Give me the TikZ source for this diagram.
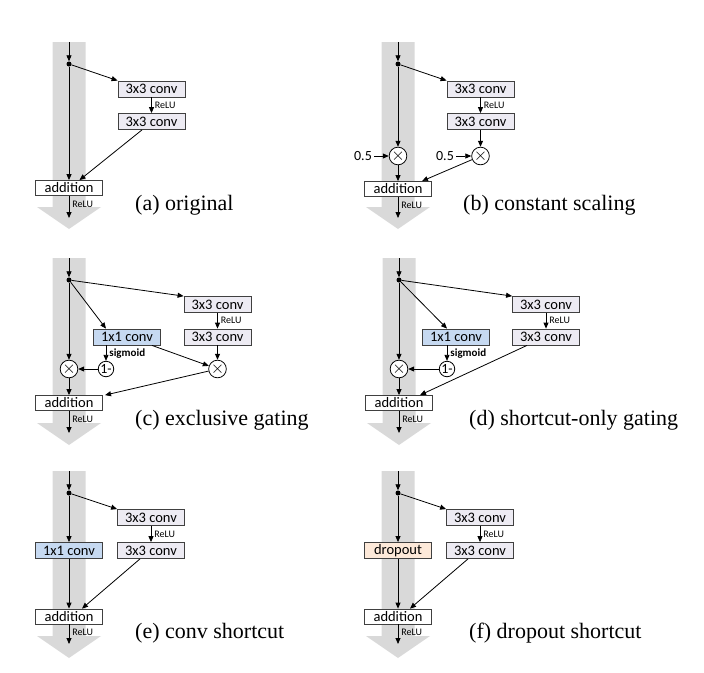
\documentclass[tikz,border=0pt]{standalone}
\usepackage{fontspec}
\setmainfont{Liberation Serif}
\newfontfamily\boxfont{Carlito}
\usetikzlibrary{arrows.meta}
\definecolor{bandgray}{HTML}{D9D9D9}
\definecolor{convfill}{HTML}{EDEBF3}
\definecolor{gatefill}{HTML}{C6D9F1}
\definecolor{dropfill}{HTML}{FDE9D9}
\definecolor{boxline}{HTML}{404040}
\tikzset{
  arr/.style={-{Triangle[length=6pt,width=5pt]},line width=0.8pt},
  layer/.style={draw=boxline,line width=0.8pt,minimum width=67pt,minimum height=16pt,inner sep=0pt,font=\boxfont\fontsize{14.5}{14.5}\selectfont},
  conv/.style={layer,fill=convfill},
  gate/.style={layer,fill=gatefill},
  drop/.style={layer,fill=dropfill},
  addbox/.style={layer,fill=white,minimum height=15pt},
  mult/.style={circle,draw,line width=0.8pt,fill=white,inner sep=0pt,minimum size=15.5pt,font=\fontsize{16}{16}\selectfont},
  split/.style={circle,fill,inner sep=0pt,minimum size=5pt},
  act/.style={font=\boxfont\fontsize{10}{10}\selectfont,inner sep=3pt},
  scale label/.style={font=\boxfont\fontsize{14}{14}\selectfont,inner sep=2pt},
  caption/.style={anchor=west,inner sep=0pt,font=\fontsize{22}{22}\selectfont},
}
\begin{document}
\begin{tikzpicture}[x=1pt,y=-1pt]
\useasboundingbox (0,0) rectangle (704,672);
% gray shortcut bands
\foreach \px/\py in {69/64,398/64,69/280,399/280,69/493,398/493}
  \fill[bandgray,shift={(\px,\py)}] (-16.5,-22) -- (16.5,-22) -- (16.5,143) -- (32,143) -- (0,165) -- (-32,143) -- (-16.5,143) -- cycle;

% (a) original
\begin{scope}[shift={(69,64)}]
\coordinate (in) at (0,-22);
\node[split] (fork) at (0,0) {};
\node[conv] (c1) at (82.5,25) {3x3 conv};
\node[conv] (c2) at (82.5,57.5) {3x3 conv};
\node[addbox] (add) at (0,124) {addition};
\coordinate (out) at (0,154);
\draw[arr] (in) -- (fork);
\draw[arr] (fork) -- (c1.north west);
\draw[arr] (c1) -- node[act,right] {ReLU} (c2);
\draw[arr] (fork) -- (add);
\draw[arr] ([xshift=-9.5pt]c2.south) -- ([xshift=10.5pt]add.north);
\draw[arr] (add) -- node[act,right,pos=0.4] {ReLU} (out);
\node[caption] at (66,141) {(a) original};
\end{scope}

% (b) constant scaling
\begin{scope}[shift={(398,64)}]
\coordinate (in) at (0,-22);
\node[split] (fork) at (0,0) {};
\node[conv] (c1) at (82.5,25) {3x3 conv};
\node[conv] (c2) at (82.5,57.5) {3x3 conv};
\node[mult] (m1) at (0,92) {$\times$};
\node[mult] (m2) at (82.5,92) {$\times$};
\node[scale label] (h1) at (-35,92) {0.5};
\node[scale label] (h2) at (47,92) {0.5};
\node[addbox] (add) at (0,125) {addition};
\coordinate (out) at (0,154);
\draw[arr] (in) -- (fork);
\draw[arr] (fork) -- (c1.north west);
\draw[arr] (c1) -- node[act,right] {ReLU} (c2);
\draw[arr] (fork) -- (m1);
\draw[arr] (h1) -- (m1);
\draw[arr] (h2) -- (m2);
\draw[arr] (c2) -- (m2);
\draw[arr] (m1) -- (add);
\draw[arr] (m2) -- ([xshift=24pt]add.north);
\draw[arr] (add) -- node[act,right,pos=0.4] {ReLU} (out);
\node[caption] at (65,141) {(b) constant scaling};
\end{scope}

% (c) exclusive gating
\begin{scope}[shift={(69,280)}]
\coordinate (in) at (0,-22);
\node[split] (fork) at (0,0) {};
\node[conv] (c1) at (148.5,24.5) {3x3 conv};
\node[conv] (c2) at (148.5,57) {3x3 conv};
\node[gate] (g) at (58,57) {1x1 conv};
\node[mult,font=\boxfont\fontsize{14}{14}\selectfont] (inv) at (37,89) {1-};
\node[mult] (m1) at (0,89) {$\times$};
\node[mult] (m2) at (148.5,89) {$\times$};
\node[addbox] (add) at (0,123) {addition};
\coordinate (out) at (0,153);
\draw[arr] (in) -- (fork);
\draw[arr] (fork) -- (c1.north west);
\draw[arr] (fork) -- ([xshift=-21pt]g.north);
\draw[arr] (c1) -- node[act,right] {ReLU} (c2);
\draw[arr] ([xshift=-21pt]g.south) -- node[act,right,font=\boxfont\bfseries\fontsize{11}{11}\selectfont] {sigmoid} (inv);
\draw[arr] (inv) -- (m1);
\draw[arr] ([xshift=25pt]g.south) -- (m2);
\draw[arr] (c2) -- (m2);
\draw[arr] (fork) -- (m1);
\draw[arr] (m1) -- (add);
\draw[arr] (m2) -- ([xshift=36pt]add.north);
\draw[arr] (add) -- node[act,right,pos=0.4] {ReLU} (out);
\node[caption] at (66,140) {(c) exclusive gating};
\end{scope}

% (d) shortcut-only gating
\begin{scope}[shift={(399,280)}]
\coordinate (in) at (0,-22);
\node[split] (fork) at (0,0) {};
\node[conv] (c1) at (147,24.5) {3x3 conv};
\node[conv] (c2) at (147,57) {3x3 conv};
\node[gate] (g) at (57,57) {1x1 conv};
\node[mult,font=\boxfont\fontsize{14}{14}\selectfont] (inv) at (48,89) {1-};
\node[mult] (m1) at (0,89) {$\times$};
\node[addbox] (add) at (0,123) {addition};
\coordinate (out) at (0,153);
\draw[arr] (in) -- (fork);
\draw[arr] (fork) -- (c1.north west);
\draw[arr] (fork) -- ([xshift=-9pt]g.north);
\draw[arr] (c1) -- node[act,right] {ReLU} (c2);
\draw[arr] ([xshift=-9pt]g.south) -- node[act,right,font=\boxfont\bfseries\fontsize{11}{11}\selectfont] {sigmoid} (inv);
\draw[arr] (inv) -- (m1);
\draw[arr] (fork) -- (m1);
\draw[arr] (m1) -- (add);
\draw[arr] ([xshift=-19pt]c2.south) -- ([xshift=21pt]add.north);
\draw[arr] (add) -- node[act,right,pos=0.4] {ReLU} (out);
\node[caption] at (70,140) {(d) shortcut-only gating};
\end{scope}

% (e) conv shortcut
\begin{scope}[shift={(69,493)}]
\coordinate (in) at (0,-22);
\node[split] (fork) at (0,0) {};
\node[conv] (c1) at (82,24.5) {3x3 conv};
\node[conv] (c2) at (82,57.5) {3x3 conv};
\node[gate] (g) at (0,57.5) {1x1 conv};
\node[addbox] (add) at (0,123.5) {addition};
\coordinate (out) at (0,151);
\draw[arr] (in) -- (fork);
\draw[arr] (fork) -- (c1.north west);
\draw[arr] (c1) -- node[act,right] {ReLU} (c2);
\draw[arr] (fork) -- (g);
\draw[arr] (g) -- (add);
\draw[arr] ([xshift=-11pt]c2.south) -- ([xshift=13pt]add.north);
\draw[arr] (add) -- node[act,right,pos=0.4] {ReLU} (out);
\node[caption] at (66,140) {(e) conv shortcut};
\end{scope}

% (f) dropout shortcut
\begin{scope}[shift={(398,493)}]
\coordinate (in) at (0,-22);
\node[split] (fork) at (0,0) {};
\node[conv] (c1) at (82,24.5) {3x3 conv};
\node[conv] (c2) at (82,57.5) {3x3 conv};
\node[drop] (d) at (0,57.5) {dropout};
\node[addbox] (add) at (0,123.5) {addition};
\coordinate (out) at (0,151);
\draw[arr] (in) -- (fork);
\draw[arr] (fork) -- (c1.north west);
\draw[arr] (c1) -- node[act,right] {ReLU} (c2);
\draw[arr] (fork) -- (d);
\draw[arr] (d) -- (add);
\draw[arr] ([xshift=-12pt]c2.south) -- ([xshift=12pt]add.north);
\draw[arr] (add) -- node[act,right,pos=0.4] {ReLU} (out);
\node[caption] at (71,140) {(f) dropout shortcut};
\end{scope}
\end{tikzpicture}
\end{document}
